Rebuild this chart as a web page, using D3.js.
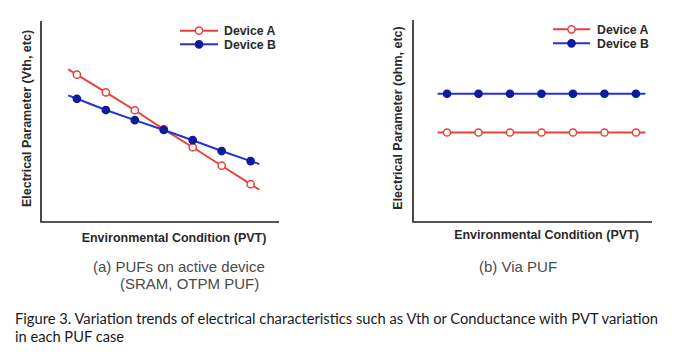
<!DOCTYPE html>
<html>
<head>
<meta charset="utf-8">
<script src="https://cdn.jsdelivr.net/npm/d3@7"></script>
<style>
  body { margin: 0; background: #fff; }
  svg { display: block; }
  .axis-title { font-family: "Liberation Sans", Arial, sans-serif; font-weight: bold; font-size: 12.5px; fill: #2a2a2a; }
  .legend-label { font-family: "Liberation Sans", Arial, sans-serif; font-weight: bold; font-size: 12.3px; fill: #2a2a2a; }
  .sub-caption { font-family: "Liberation Sans", Arial, sans-serif; font-size: 15px; fill: #4a4a4a; }
  .fig-caption { font-family: Lato, "Open Sans", sans-serif; font-size: 15.5px; fill: #1a1a1a; }
</style>
</head>
<body>
<div id="chart"></div>
<script>
// PVT steps along the x axis (no ticks shown)
const steps = [0, 1, 2, 3, 4, 5, 6];

// (a) PUFs on active device (arbitrary units 0..10)
const activeDeviceA = [7.33, 6.45, 5.56, 4.61, 3.72, 2.80, 1.88];
const activeDeviceB = [6.13, 5.57, 5.07, 4.58, 4.07, 3.53, 3.03];

// (b) Via PUF - flat lines
const viaDeviceA = [4.43, 4.43, 4.43, 4.43, 4.43, 4.43, 4.43];
const viaDeviceB = [6.35, 6.35, 6.35, 6.35, 6.35, 6.35, 6.35];

const seriesNames = ['Device A', 'Device B'];

const captionLines = [
    'Figure 3. Variation trends of electrical characteristics such as Vth or Conductance with PVT variation',
    'in each PUF case'
];

const width = 693, height = 361;
const colors = {
    A: { line: '#e8413c', fill: '#ffffff', stroke: '#e8413c' },
    B: { line: '#2232d8', fill: '#0b1c9c', stroke: '#0b1c9c' }
};

const svg = d3.select('#chart').append('svg')
    .attr('width', width)
    .attr('height', height);

svg.append('rect').attr('width', width).attr('height', height).attr('fill', '#fff');

const panels = [
    {
        left: 41, right: 279, top: 21, bottom: 222,
        xDomain: [-1.24, 6.98],
        yTitle: 'Electrical Parameter (Vth, etc)', yTitleX: 27,
        xTitleY: 241.5,
        series: [activeDeviceA, activeDeviceB],
        legend: { x0: 180, x1: 218, y: 30.7, gap: 13.6, textX: 224 },
        sub: [{ text: '(a) PUFs on active device', x: 93, y: 271.5 }, { text: '(SRAM, OTPM PUF)', x: 120, y: 288.5 }]
    },
    {
        left: 413, right: 652, top: 20, bottom: 222,
        xDomain: [-1.08, 6.51],
        yTitle: 'Electrical Parameter (ohm, etc)', yTitleX: 398,
        xTitleY: 238.5,
        series: [viaDeviceA, viaDeviceB],
        legend: { x0: 553, x1: 590, y: 29.3, gap: 14, textX: 597 },
        sub: [{ text: '(b) Via PUF', x: 479, y: 271.5 }]
    }
];

panels.forEach(p => {
    const g = svg.append('g');

    const x = d3.scaleLinear().domain(p.xDomain).range([p.left, p.right]);
    const y = d3.scaleLinear().domain([0, 10]).range([p.bottom, p.top]);

    // axes: plain L-shaped frame, no ticks
    g.append('path')
        .attr('d', `M${x.range()[0]},${y.range()[1]}V${y.range()[0]}H${x.range()[1]}`)
        .attr('fill', 'none')
        .attr('stroke', '#1e1e1e')
        .attr('stroke-width', 1.6);

    // axis titles
    g.append('text')
        .attr('class', 'axis-title')
        .attr('x', (p.left + p.right) / 2 + 14)
        .attr('y', p.xTitleY)
        .attr('text-anchor', 'middle')
        .text('Environmental Condition (PVT)');

    g.append('text')
        .attr('class', 'axis-title')
        .attr('transform', `translate(${p.yTitleX},${(p.top + p.bottom) / 2 - 3}) rotate(-90)`)
        .attr('dy', '0.35em')
        .attr('text-anchor', 'middle')
        .text(p.yTitle);

    // series
    p.series.forEach((vals, i) => {
        const c = i === 0 ? colors.A : colors.B;
        const pts = steps.map((s, k) => ({ s: s, v: vals[k] }));

        // line runs a little past the first and last marker
        const ext = 0.3;
        const n = pts.length;
        const first = { s: pts[0].s - ext, v: pts[0].v - (pts[1].v - pts[0].v) * ext };
        const last = { s: pts[n - 1].s + ext, v: pts[n - 1].v + (pts[n - 1].v - pts[n - 2].v) * ext };
        const linePts = [first].concat(pts, [last]);

        const line = d3.line().x(d => x(d.s)).y(d => y(d.v));

        g.append('path')
            .datum(linePts)
            .attr('d', line)
            .attr('fill', 'none')
            .attr('stroke', c.line)
            .attr('stroke-width', 2);

        g.selectAll('.pt' + i)
            .data(pts)
            .enter().append('circle')
            .attr('cx', d => x(d.s))
            .attr('cy', d => y(d.v))
            .attr('r', 3.6)
            .attr('fill', c.fill)
            .attr('stroke', c.stroke)
            .attr('stroke-width', 1.5);
    });

    // legend
    seriesNames.forEach((name, i) => {
        const c = i === 0 ? colors.A : colors.B;
        const ly = p.legend.y + i * p.legend.gap;
        g.append('line')
            .attr('x1', p.legend.x0).attr('x2', p.legend.x1)
            .attr('y1', ly).attr('y2', ly)
            .attr('stroke', c.line)
            .attr('stroke-width', 2);
        g.append('circle')
            .attr('cx', (p.legend.x0 + p.legend.x1) / 2)
            .attr('cy', ly)
            .attr('r', 3.6)
            .attr('fill', c.fill)
            .attr('stroke', c.stroke)
            .attr('stroke-width', 1.5);
        g.append('text')
            .attr('class', 'legend-label')
            .attr('x', p.legend.textX)
            .attr('y', ly)
            .attr('dy', '0.35em')
            .text(name);
    });

    // sub-captions
    p.sub.forEach(s => {
        g.append('text')
            .attr('class', 'sub-caption')
            .attr('x', s.x)
            .attr('y', s.y)
            .text(s.text);
    });
});

// figure caption, two lines
const captionWidths = [643, 109];
captionLines.forEach((t, i) => {
    svg.append('text')
        .attr('class', 'fig-caption')
        .attr('x', 15)
        .attr('y', 324 + i * 17.7)
        .attr('textLength', captionWidths[i])
        .attr('lengthAdjust', 'spacingAndGlyphs')
        .text(t);
});
</script>
</body>
</html>
